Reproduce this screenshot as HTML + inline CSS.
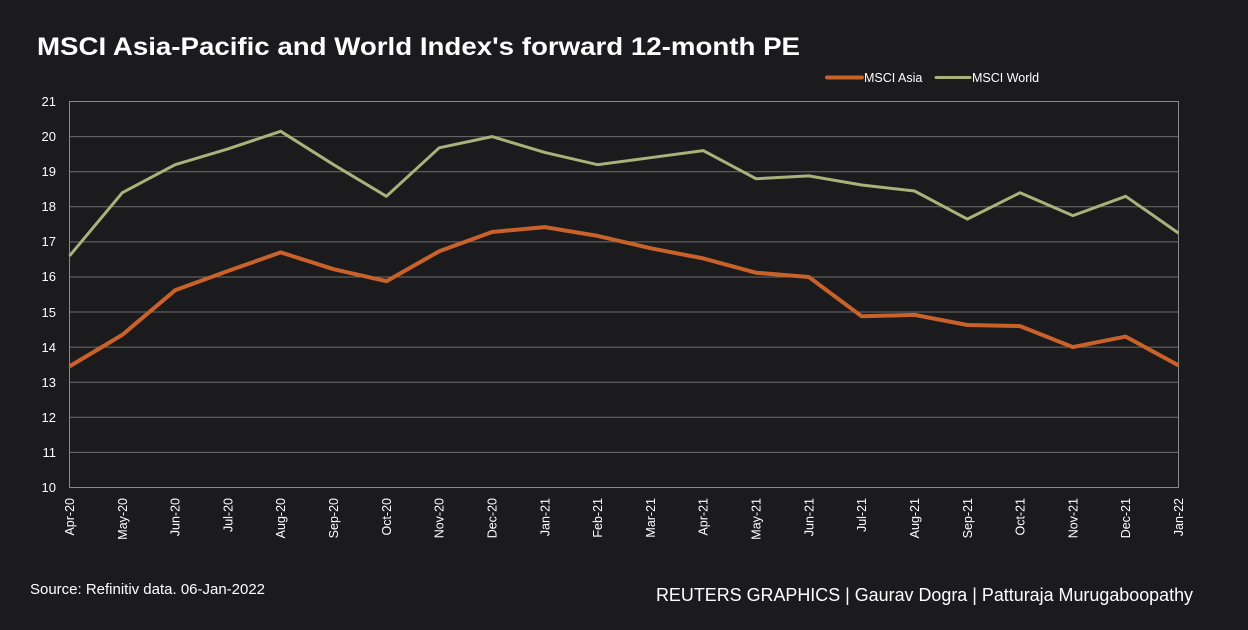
<!DOCTYPE html>
<html><head><meta charset="utf-8"><style>
html,body{margin:0;padding:0;background:#1b1a1c;}
svg{display:block;font-family:"Liberation Sans",sans-serif;}
</style></head><body>
<svg width="1248" height="630" viewBox="0 0 1248 630" xmlns="http://www.w3.org/2000/svg">
<rect width="1248" height="630" fill="#1b1a1c"/>
<text x="37" y="55" fill="#fff" font-size="25" font-weight="bold" textLength="763" lengthAdjust="spacingAndGlyphs">MSCI Asia-Pacific and World Index's forward 12-month PE</text>
<line x1="827" y1="77.5" x2="862" y2="77.5" stroke="#c8622a" stroke-width="4" stroke-linecap="round"/>
<text x="864" y="82" fill="#fff" font-size="12.5">MSCI Asia</text>
<line x1="936" y1="77.5" x2="970" y2="77.5" stroke="#a9b27a" stroke-width="3" stroke-linecap="round"/>
<text x="972" y="82" fill="#fff" font-size="12.5">MSCI World</text>
<g stroke="#6e6e6e" stroke-width="1">
<line x1="69.5" x2="1178.5" y1="452.4" y2="452.4"/>
<line x1="69.5" x2="1178.5" y1="417.3" y2="417.3"/>
<line x1="69.5" x2="1178.5" y1="382.2" y2="382.2"/>
<line x1="69.5" x2="1178.5" y1="347.1" y2="347.1"/>
<line x1="69.5" x2="1178.5" y1="312.0" y2="312.0"/>
<line x1="69.5" x2="1178.5" y1="277.0" y2="277.0"/>
<line x1="69.5" x2="1178.5" y1="241.9" y2="241.9"/>
<line x1="69.5" x2="1178.5" y1="206.8" y2="206.8"/>
<line x1="69.5" x2="1178.5" y1="171.7" y2="171.7"/>
<line x1="69.5" x2="1178.5" y1="136.6" y2="136.6"/>
</g>
<rect x="69.5" y="101.5" width="1109" height="386" fill="none" stroke="#8a8a8a" stroke-width="1"/>
<g fill="#fff" font-size="13" text-anchor="end">
<text x="56" y="492">10</text><text x="56" y="457">11</text><text x="56" y="422">12</text><text x="56" y="387">13</text><text x="56" y="352">14</text><text x="56" y="317">15</text><text x="56" y="281">16</text><text x="56" y="246">17</text><text x="56" y="211">18</text><text x="56" y="176">19</text><text x="56" y="141">20</text><text x="56" y="106">21</text>
</g>
<g fill="#fff" font-size="12.5" text-anchor="end">
<text transform="translate(74,498) rotate(-90)">Apr-20</text>
<text transform="translate(126.8,498) rotate(-90)">May-20</text>
<text transform="translate(179.6,498) rotate(-90)">Jun-20</text>
<text transform="translate(232.4,498) rotate(-90)">Jul-20</text>
<text transform="translate(285.2,498) rotate(-90)">Aug-20</text>
<text transform="translate(338.1,498) rotate(-90)">Sep-20</text>
<text transform="translate(390.9,498) rotate(-90)">Oct-20</text>
<text transform="translate(443.7,498) rotate(-90)">Nov-20</text>
<text transform="translate(496.5,498) rotate(-90)">Dec-20</text>
<text transform="translate(549.3,498) rotate(-90)">Jan-21</text>
<text transform="translate(602.1,498) rotate(-90)">Feb-21</text>
<text transform="translate(654.9,498) rotate(-90)">Mar-21</text>
<text transform="translate(707.7,498) rotate(-90)">Apr-21</text>
<text transform="translate(760.5,498) rotate(-90)">May-21</text>
<text transform="translate(813.3,498) rotate(-90)">Jun-21</text>
<text transform="translate(866.2,498) rotate(-90)">Jul-21</text>
<text transform="translate(919,498) rotate(-90)">Aug-21</text>
<text transform="translate(971.8,498) rotate(-90)">Sep-21</text>
<text transform="translate(1024.6,498) rotate(-90)">Oct-21</text>
<text transform="translate(1077.4,498) rotate(-90)">Nov-21</text>
<text transform="translate(1130.2,498) rotate(-90)">Dec-21</text>
<text transform="translate(1183,498) rotate(-90)">Jan-22</text>
</g>
<polyline fill="none" stroke="#a9b27a" stroke-width="3" stroke-linejoin="round" points="69.5,255.9 122.3,192.7 175.1,164.7 227.9,148.9 280.7,131.3 333.6,164.7 386.4,196.3 439.2,147.8 492,136.6 544.8,152.4 597.6,164.7 650.4,157.7 703.2,150.6 756,178.7 808.8,175.9 861.7,185 914.5,191 967.3,219.1 1020.1,192.7 1072.9,215.6 1125.7,196.3 1178.5,233.1"/>
<polyline fill="none" stroke="#c8622a" stroke-width="4" stroke-linejoin="round" points="69.5,366.4 122.3,334.9 175.1,290.3 227.9,271 280.7,252.4 333.6,269.2 386.4,281.2 439.2,251.3 492,232 544.8,227.1 597.6,235.9 650.4,248.2 703.2,258.4 756,272.7 808.8,277 861.7,316.3 914.5,314.9 967.3,325 1020.1,326.1 1072.9,347.1 1125.7,336.6 1178.5,365.4"/>
<text x="30" y="594" fill="#fff" font-size="15" textLength="235" lengthAdjust="spacingAndGlyphs">Source: Refinitiv data. 06-Jan-2022</text>
<text x="1193" y="601" fill="#fff" font-size="18" text-anchor="end" textLength="537" lengthAdjust="spacingAndGlyphs">REUTERS GRAPHICS | Gaurav Dogra | Patturaja Murugaboopathy</text>
</svg>
</body></html>
